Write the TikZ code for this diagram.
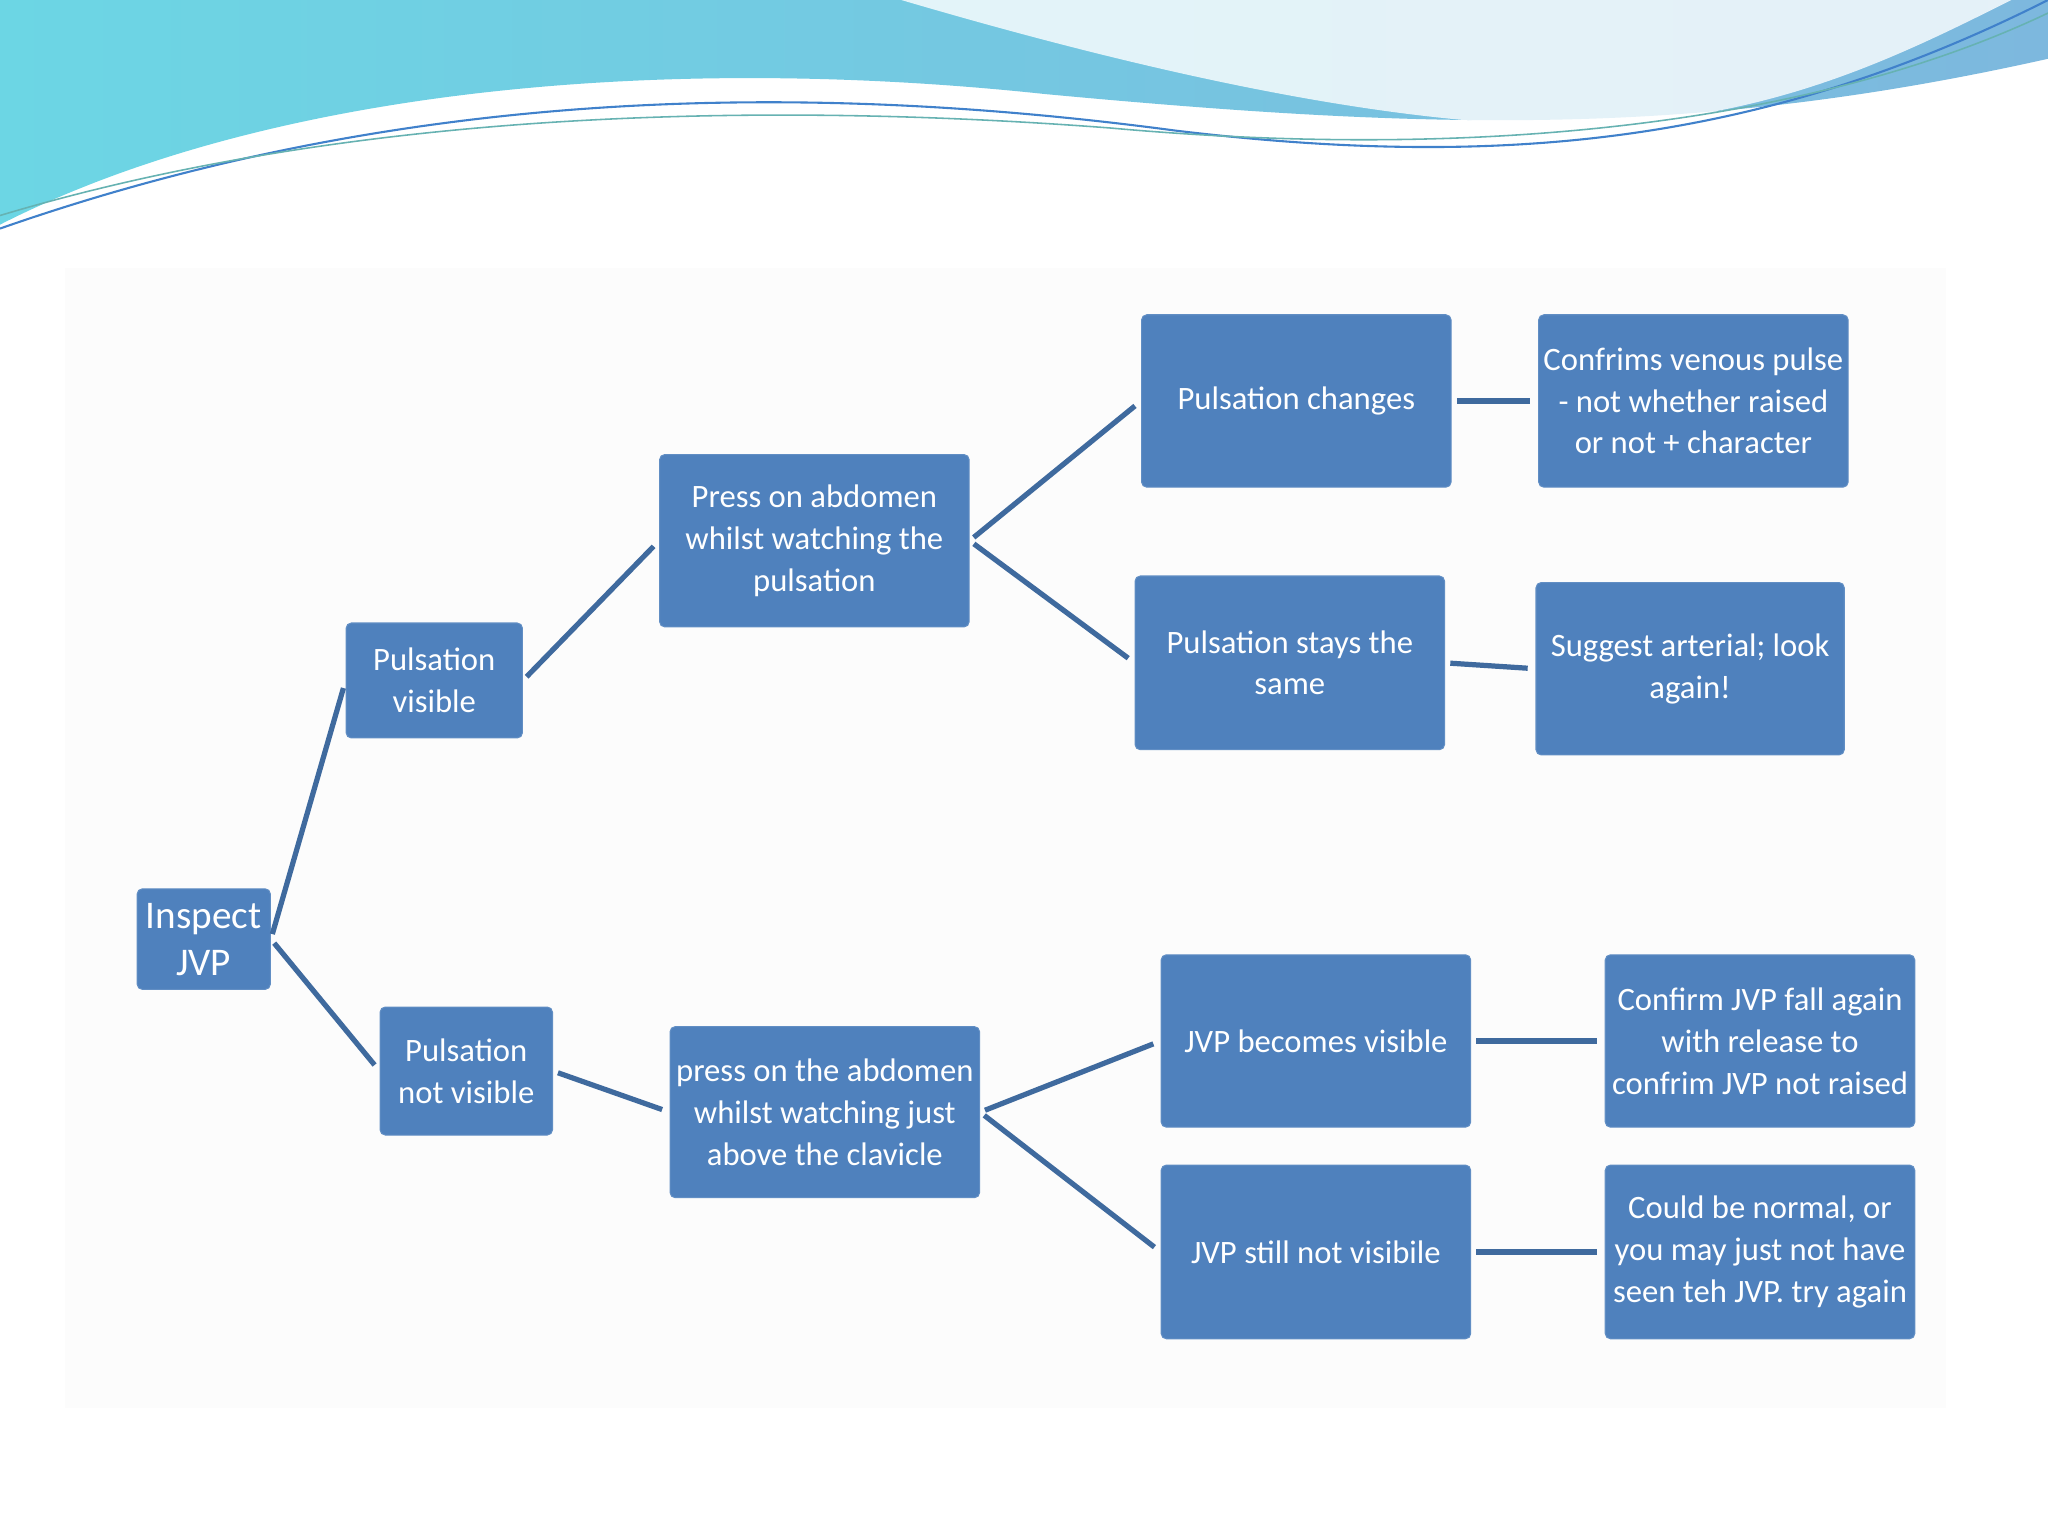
\documentclass[tikz,border=0pt]{standalone}
\usepackage{fontspec}
\setmainfont{Carlito}
\usetikzlibrary{shadings}
\definecolor{boxc}{HTML}{4F81BD}
\definecolor{linec}{HTML}{3F6A9E}
\definecolor{wl}{HTML}{6CD6E4}
\definecolor{wr}{HTML}{7DB8DE}
\begin{document}
\begin{tikzpicture}[x=0.5pt,y=-0.5pt,
  box/.style={draw=boxc!90!white,fill=boxc,rounded corners=2pt,text=white,align=center,
    font=\fontsize{12.5}{16}\selectfont,inner sep=1pt},
  con/.style={draw=linec,line width=2pt,shorten <=2pt,shorten >=3pt}]
\useasboundingbox (0,0) rectangle (1568,1176);
\fill[white] (0,0) rectangle (1568,1176);
\fill[gray!2] (50,205) rectangle (1490,1078);
% top wave
\shade[left color=wl, right color=wr]
  (0,0) -- (0,172) .. controls (200,70) and (500,40) .. (800,72)
  .. controls (1100,100) and (1300,105) .. (1568,45) -- (1568,0) -- cycle;
\fill[white,opacity=0.8] (690,0) .. controls (860,50) and (1050,95) .. (1200,96)
  .. controls (1350,95) and (1450,45) .. (1540,0) -- cycle;
\draw[cyan!50!blue!80,line width=0.8pt] (0,175) .. controls (300,70) and (600,60) .. (900,100)
  .. controls (1150,130) and (1350,110) .. (1568,0);
\draw[teal!60,line width=0.6pt] (0,165) .. controls (250,90) and (550,75) .. (850,98)
  .. controls (1150,125) and (1400,90) .. (1568,10);

\node[box,minimum width=51pt,minimum height=38.5pt,font=\fontsize{15}{18}\selectfont] (ijvp) at (156,719) {Inspect\\JVP};
\node[box,minimum width=67.5pt,minimum height=44pt] (pv) at (332.5,521) {Pulsation\\visible};
\node[box,minimum width=66pt,minimum height=49pt] (pnv) at (357,820) {Pulsation\\not visible};
\node[box,minimum width=118.5pt,minimum height=66pt] (pa) at (623.5,414) {Press on abdomen\\whilst watching the\\pulsation};
\node[box,minimum width=118.5pt,minimum height=65.5pt] (pc) at (631.5,851.5) {press on the abdomen\\whilst watching just\\above the clavicle};
\node[box,minimum width=118.5pt,minimum height=66pt] (pch) at (992.5,307) {Pulsation changes};
\node[box,minimum width=118.5pt,minimum height=66.5pt] (pst) at (987.5,507.5) {Pulsation stays the\\same};
\node[box,minimum width=118.5pt,minimum height=66pt] (cvp) at (1296.5,307) {Confrims venous pulse\\- not whether raised\\or not + character};
\node[box,minimum width=118pt,minimum height=66pt] (sa) at (1294,512) {Suggest arterial; look\\again!};
\node[box,minimum width=118.5pt,minimum height=66pt] (jbv) at (1007.5,797) {JVP becomes visible};
\node[box,minimum width=118.5pt,minimum height=66.5pt] (jsn) at (1007.5,958.5) {JVP still not visibile};
\node[box,minimum width=118.5pt,minimum height=66pt] (cjf) at (1347.5,797) {Confirm JVP fall again\\with release to\\confrim JVP not raised};
\node[box,minimum width=118.5pt,minimum height=66.5pt] (cbn) at (1347.5,958.5) {Could be normal, or\\you may just not have\\seen teh JVP. try again};

\draw[con] (ijvp.east) -- (pv.west);
\draw[con] (ijvp.east) -- (pnv.west);
\draw[con] (pv.east) -- (pa.west);
\draw[con] (pnv.east) -- (pc.west);
\draw[con] (pa.east) -- (pch.west);
\draw[con] (pa.east) -- (pst.west);
\draw[con] (pc.east) -- (jbv.west);
\draw[con] (pc.east) -- (jsn.west);
\draw[con] (pch.east) -- (cvp.west);
\draw[con] (pst.east) -- (sa.west);
\draw[con] (jbv.east) -- (cjf.west);
\draw[con] (jsn.east) -- (cbn.west);
\end{tikzpicture}
\end{document}
